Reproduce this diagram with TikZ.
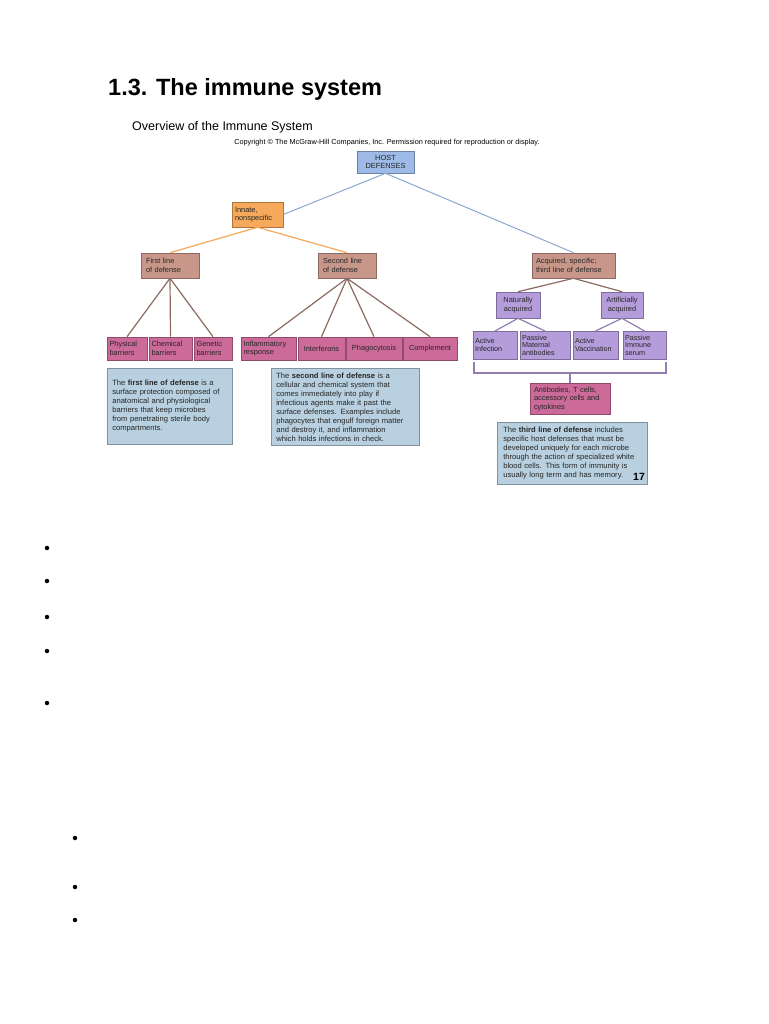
\documentclass[tikz,border=0pt]{standalone}
\usepackage{fontspec}
\setmainfont{Liberation Sans}
\begin{document}
\begin{tikzpicture}[x=1pt,y=-1pt,
 bx/.style={draw=#1!70!black,line width=0.6pt,inner xsep=1pt,inner ysep=1pt,align=left,font=\fontsize{7.4}{8.4}\selectfont,text=black!85},
 hostc/.style={bx=hostfill,fill=hostfill},
 innc/.style={bx=innfill,fill=innfill},
 brc/.style={bx=brfill,fill=brfill},
 puc/.style={bx=pufill,fill=pufill},
 pkc/.style={bx=pkfill,fill=pkfill},
 dsc/.style={bx=dsfill,fill=dsfill,font=\fontsize{7.6}{9}\selectfont,align=left,anchor=north west,inner xsep=5pt,inner ysep=4pt},
 lb/.style={draw=hostfill!90!black,line width=1pt},
 lo/.style={draw=innfill,line width=1.2pt},
 lr/.style={draw=brfill!70!black,line width=1.2pt},
 lp/.style={draw=pufill!80!black,line width=1.2pt},
 bul/.style={circle,fill=black,inner sep=0pt,minimum size=4.5pt}]
\definecolor{hostfill}{HTML}{9DBBE6}
\definecolor{innfill}{HTML}{F6A95A}
\definecolor{brfill}{HTML}{C8978A}
\definecolor{pufill}{HTML}{B59CDA}
\definecolor{pkfill}{HTML}{CC6A9A}
\definecolor{dsfill}{HTML}{B8D0E0}
\useasboundingbox (0,0) rectangle (768,1024);
\fill[white] (0,0) rectangle (768,1024);
\node[anchor=west,font=\bfseries\fontsize{23.5}{26}\selectfont,inner sep=0pt] (title) at (108,89) {1.3. The immune system};
\node[anchor=west,font=\fontsize{12.5}{14}\selectfont,inner sep=0pt] (ov) at (132,127) {Overview of the Immune System};
\node[font=\fontsize{7.3}{8}\selectfont] (copy) at (387,143) {Copyright \copyright{} The McGraw-Hill Companies, Inc. Permission required for reproduction or display.};
% boxes
\node[hostc,minimum width=57pt,minimum height=22pt,align=center] (host) at (385.5,162) {HOST\\DEFENSES};
\node[innc,minimum width=51pt,minimum height=25pt,text width=45pt] (inn) at (257.5,214.5) {Innate,\\nonspecific};
\node[brc,minimum width=58pt,minimum height=25pt,text width=48pt] (first) at (170,265.5) {First line\\of defense};
\node[brc,minimum width=58pt,minimum height=25pt,text width=48pt] (second) at (347,265.5) {Second line\\of defense};
\node[brc,minimum width=83pt,minimum height=25pt,text width=75pt] (acq) at (573.5,265.5) {Acquired, specific;\\third line of defense};
\node[puc,minimum width=44pt,minimum height=26pt,align=center] (nat) at (518,305) {Naturally\\acquired};
\node[puc,minimum width=42pt,minimum height=26pt,align=center] (art) at (622,305) {Artificially\\acquired};
\foreach \n/\x/\w/\t in {phy/127/40/{Physical\\barriers},che/170.5/43/{Chemical\\barriers},gen/213/38/{Genetic\\barriers},inf/268.5/55/{Inflammatory\\response}}
  \node[pkc,minimum width=\w pt,minimum height=23pt,text width=\w pt-5pt] (\n) at (\x,348.5) {\t};
\foreach \n/\x/\w/\t in {ifn/321.5/47/{Interferons},pha/374/56/{Phagocytosis},com/430/54/{Complement}}
  \node[pkc,minimum width=\w pt,minimum height=23pt,align=center] (\n) at (\x,348.5) {\t};
\foreach \n/\x/\w/\t in {ai/495/44/{Active\\Infection},pm/545/50/{Passive\\Maternal\\antibodies},av/595.5/45/{Active\\Vaccination},pi/644.5/43/{Passive\\Immune\\serum}}
  \node[puc,minimum width=\w pt,minimum height=28pt,text width=\w pt-4pt,anchor=north,inner sep=1pt,font=\fontsize{7.2}{7.8}\selectfont] (\n) at (\x,331) {\t};
\node[pkc,minimum width=80pt,minimum height=31pt,text width=72pt,anchor=north] (ab) at (570,383) {Antibodies, T cells,\\accessory cells and\\cytokines};
% description boxes
\node[dsc,minimum width=125pt,minimum height=76pt,text width=115pt] (d1) at (107,368) {The \textbf{first line of defense} is a\\surface protection composed of\\anatomical and physiological\\barriers that keep microbes\\from penetrating sterile body\\compartments.};
\node[dsc,minimum width=148pt,minimum height=77pt,text width=138pt] (d2) at (271,368) {The \textbf{second line of defense} is a\\cellular and chemical system that\\comes immediately into play if\\infectious agents make it past the\\surface defenses. Examples include\\phagocytes that engulf foreign matter\\and destroy it, and inflammation\\which holds infections in check.};
\node[dsc,minimum width=150pt,minimum height=62pt,text width=138pt,inner ysep=3pt] (d3) at (497,422) {The \textbf{third line of defense} includes\\specific host defenses that must be\\developed uniquely for each microbe\\through the action of specialized white\\blood cells. This form of immunity is\\usually long term and has memory.};
\node[font=\bfseries\fontsize{10.5}{11}\selectfont] (n17) at (639,477) {17};
% connectors
\draw[lb] (host.south) -- (inn.east);
\draw[lb] (host.south) -- (acq.north);
\draw[lo] (inn.south) -- (first.north);
\draw[lo] (inn.south) -- (second.north);
\foreach \c in {phy,che,gen} \draw[lr] (first.south) -- (\c.north);
\foreach \c in {inf,ifn,pha,com} \draw[lr] (second.south) -- (\c.north);
\draw[lr] (acq.south) -- (nat.north);
\draw[lr] (acq.south) -- (art.north);
\draw[lp] (nat.south) -- (ai.north);
\draw[lp] (nat.south) -- (pm.north);
\draw[lp] (art.south) -- (av.north);
\draw[lp] (art.south) -- (pi.north);
\coordinate (bl) at (474,362);
\coordinate (br) at (666,362);
\draw[lp] (bl) -- ++(0,11) -| (br);
\draw[lp] (ab.north) -- ++(0,-10);
% bullets
\foreach \i/\x/\y in {1/47/548,2/47/581,3/47/617,4/47/651,5/47/703,6/75/838,7/75/887,8/75/920}
  \node[bul] (b\i) at (\x,\y) {};
\end{tikzpicture}
\end{document}
